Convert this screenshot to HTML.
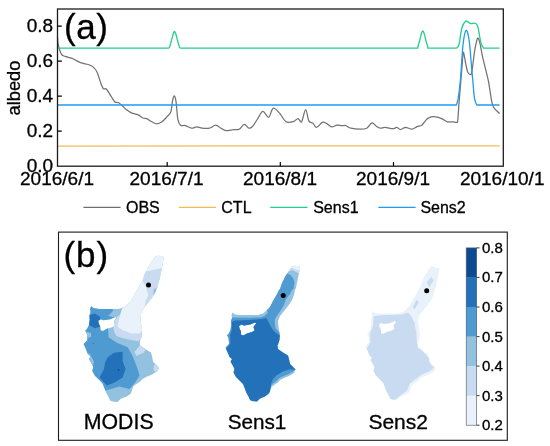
<!DOCTYPE html>
<html><head><meta charset="utf-8"><title>figure</title>
<style>html,body{margin:0;padding:0;background:#fff}svg{display:block}text{stroke:#000;stroke-width:0.3px}</style></head>
<body>
<svg width="550" height="446" viewBox="0 0 550 446" font-family="'Liberation Sans', sans-serif">
<defs><clipPath id="gc" clip-rule="evenodd"><path clip-rule="evenodd" d="M292.0 266.4L294.5 265.7L299.2 266.2L299.8 268.0L299.0 273.0L297.5 280.0L296.0 288.0L295.0 290.0L294.0 295.0L291.5 301.0L288.0 306.0L284.0 311.0L280.0 316.0L278.0 321.0L278.5 327.0L279.0 330.0L279.8 335.0L279.5 340.0L277.5 346.0L278.0 349.0L283.0 352.5L288.0 355.5L289.0 359.0L290.0 364.0L295.5 369.5L294.0 373.0L289.0 376.0L284.0 378.0L280.0 380.0L278.0 382.5L274.0 385.0L271.5 387.0L270.5 390.0L269.0 394.0L265.0 396.5L260.0 398.5L257.0 401.5L252.0 401.0L250.0 400.0L248.5 396.5L246.0 392.0L245.0 389.0L243.0 384.0L240.0 381.0L236.0 377.0L233.5 372.5L234.5 369.0L233.0 366.0L230.5 361.5L232.0 359.0L229.5 357.0L227.5 352.0L225.5 347.5L229.0 344.0L229.0 343.0L228.5 338.0L227.0 335.0L228.5 334.0L230.5 330.0L231.2 325.0L231.0 321.0L232.0 318.0L231.5 315.0L232.5 312.5L235.0 314.5L240.0 315.0L250.0 315.0L258.0 315.0L263.0 313.5L267.0 310.0L270.0 307.0L273.0 301.0L276.5 295.0L279.0 290.0L280.0 289.0L282.0 283.0L285.0 277.0L288.0 272.0L291.0 268.0ZM239.0 326.0L241.5 324.5L244.0 325.5L250.0 324.5L255.0 322.5L256.2 323.5L253.5 327.0L254.5 330.5L252.0 332.0L247.0 333.5L243.5 335.5L241.2 335.0L240.8 331.0L239.5 328.5Z"/></clipPath><clipPath id="gm" clip-rule="evenodd"><path clip-rule="evenodd" transform="translate(-159.22 -30.35) scale(1.0770)" d="M292.0 266.4L294.5 265.7L299.2 266.2L299.8 268.0L299.0 273.0L297.5 280.0L296.0 288.0L295.0 290.0L294.0 295.0L291.5 301.0L288.0 306.0L284.0 311.0L280.0 316.0L278.0 321.0L278.5 327.0L279.0 330.0L279.8 335.0L279.5 340.0L277.5 346.0L278.0 349.0L283.0 352.5L288.0 355.5L289.0 359.0L290.0 364.0L295.5 369.5L294.0 373.0L289.0 376.0L284.0 378.0L280.0 380.0L278.0 382.5L274.0 385.0L271.5 387.0L270.5 390.0L269.0 394.0L265.0 396.5L260.0 398.5L257.0 401.5L252.0 401.0L250.0 400.0L248.5 396.5L246.0 392.0L245.0 389.0L243.0 384.0L240.0 381.0L236.0 377.0L233.5 372.5L234.5 369.0L233.0 366.0L230.5 361.5L232.0 359.0L229.5 357.0L227.5 352.0L225.5 347.5L229.0 344.0L229.0 343.0L228.5 338.0L227.0 335.0L228.5 334.0L230.5 330.0L231.2 325.0L231.0 321.0L232.0 318.0L231.5 315.0L232.5 312.5L235.0 314.5L240.0 315.0L250.0 315.0L258.0 315.0L263.0 313.5L267.0 310.0L270.0 307.0L273.0 301.0L276.5 295.0L279.0 290.0L280.0 289.0L282.0 283.0L285.0 277.0L288.0 272.0L291.0 268.0ZM239.0 326.0L241.5 324.5L244.0 325.5L250.0 324.5L255.0 322.5L256.2 323.5L253.5 327.0L254.5 330.5L252.0 332.0L247.0 333.5L243.5 335.5L241.2 335.0L240.8 331.0L239.5 328.5Z"/></clipPath></defs>
<rect width="550" height="446" fill="#fff"/>
<g fill="none" stroke-linejoin="round" stroke-linecap="butt">
<path d="M57.5 146.1 L499.6 145.8" stroke="#f3bb58" stroke-width="1.3"/>
<path d="M57.5 37.3C57.6 38.6 57.7 42.5 58.4 45.4C59.1 48.2 60.4 52.6 61.5 54.4C62.6 56.2 63.4 55.7 65.3 56.4C67.2 57.1 70.4 57.7 72.9 58.7C75.4 59.8 78.0 61.7 80.5 62.7C83.0 63.7 86.1 63.8 88.2 64.5C90.3 65.2 91.8 65.8 93.3 67.1C94.8 68.4 95.8 69.5 97.1 72.2C98.4 75.0 99.9 80.8 100.9 83.6C102.0 86.3 102.5 87.8 103.4 88.7C104.3 89.6 105.2 87.9 106.5 89.2C107.8 90.5 109.7 94.2 111.1 96.3C112.5 98.4 113.6 100.8 114.9 101.9C116.2 103.0 117.4 102.0 118.7 102.7C120.0 103.4 121.2 104.8 122.5 106.0C123.8 107.2 124.8 108.4 126.3 109.6C127.8 110.8 129.5 112.1 131.4 112.9C133.3 113.8 135.9 113.9 137.8 114.7C139.7 115.5 141.4 117.3 142.9 118.0C144.4 118.7 145.2 118.1 146.7 118.7C148.2 119.3 150.1 121.0 151.8 121.8C153.5 122.6 155.2 123.8 156.9 123.8C158.6 123.8 160.3 123.0 162.0 121.8C163.7 120.6 165.5 118.4 167.0 116.7C168.5 115.0 170.0 114.4 170.9 111.6C171.8 108.8 172.1 102.6 172.7 100.0C173.3 97.4 173.8 95.7 174.3 95.9C174.9 96.1 175.4 97.5 176.0 101.4C176.6 105.3 177.1 115.2 177.8 119.2C178.6 123.2 179.2 124.1 180.5 125.2C181.8 126.3 183.5 125.1 185.3 125.6C187.2 126.1 189.7 128.0 191.6 128.2C193.5 128.4 194.8 126.9 196.7 126.9C198.6 126.9 201.0 128.0 203.1 128.2C205.2 128.4 207.3 128.7 209.4 128.2C211.5 127.7 213.9 125.1 215.8 125.1C217.7 125.1 219.2 127.3 220.9 128.2C222.6 129.1 223.9 130.4 226.0 130.7C228.1 130.9 231.4 129.9 233.6 129.7C235.8 129.4 237.4 130.1 239.2 129.2C241.0 128.3 242.7 124.6 244.3 124.4C245.9 124.2 247.5 127.9 248.9 128.2C250.3 128.5 251.2 127.8 252.7 126.2C254.2 124.6 256.1 121.0 257.8 118.5C259.5 116.0 261.1 111.6 262.9 111.4C264.7 111.2 267.0 117.8 268.7 117.3C270.4 116.8 271.3 109.0 273.1 108.3C274.9 107.6 277.3 110.7 279.4 112.9C281.5 115.1 283.5 120.1 285.8 121.6C288.1 123.0 291.4 122.1 293.4 121.6C295.4 121.1 296.6 118.5 298.0 118.5C299.4 118.5 300.3 123.3 301.6 121.8C302.9 120.3 304.4 109.7 305.6 109.6C306.8 109.5 307.7 118.8 308.9 121.1C310.1 123.3 311.4 122.0 312.7 123.1C314.0 124.1 314.9 127.5 316.5 127.4C318.1 127.3 320.7 122.9 322.4 122.3C324.1 121.7 325.1 122.8 326.7 123.6C328.3 124.4 330.1 126.7 331.8 126.9C333.5 127.2 335.2 125.3 336.9 125.1C338.6 124.9 340.5 125.5 342.0 125.6C343.5 125.7 344.3 125.2 345.8 125.6C347.3 126.0 348.6 127.6 350.9 128.2C353.2 128.8 357.2 129.2 359.8 129.2C362.4 129.2 364.7 129.3 366.7 128.2C368.7 127.1 370.4 123.1 372.0 122.8C373.6 122.5 374.9 125.3 376.3 126.2C377.7 127.1 378.7 128.0 380.2 128.2C381.7 128.4 383.1 127.3 385.2 127.4C387.3 127.5 391.0 128.7 392.9 128.7C394.8 128.7 395.4 127.3 396.7 127.4C398.0 127.5 399.0 129.5 400.5 129.5C402.0 129.5 403.7 127.5 405.6 127.4C407.5 127.4 410.1 129.3 412.0 129.2C413.9 129.1 415.3 127.4 417.0 126.7C418.7 126.0 420.4 126.2 422.1 124.9C423.8 123.6 425.5 120.2 427.3 118.8C429.1 117.4 430.9 117.0 432.7 116.7C434.5 116.5 436.5 116.9 438.2 117.3C439.9 117.7 441.2 118.3 442.7 119.1C444.2 119.8 445.6 121.3 447.3 121.8C449.0 122.2 451.2 121.7 452.7 121.8C454.2 121.9 455.5 122.7 456.4 122.4C457.2 122.1 457.4 123.4 457.8 120.0C458.2 116.6 458.6 108.5 459.1 101.8C459.6 95.1 460.4 86.2 460.9 80.0C461.4 73.8 461.8 69.1 462.2 64.5C462.6 59.9 462.8 52.5 463.3 52.2C463.9 51.9 464.8 59.4 465.5 62.7C466.2 66.0 466.9 69.8 467.6 71.8C468.4 73.8 469.3 74.5 470.0 74.5C470.7 74.5 471.1 75.6 471.8 71.8C472.6 68.0 473.7 56.9 474.5 51.8C475.3 46.6 476.1 43.2 476.7 40.9C477.3 38.6 477.6 37.8 478.2 38.2C478.8 38.7 479.2 40.4 480.0 43.6C480.8 46.8 481.3 51.2 482.7 57.3C484.1 63.4 487.0 74.4 488.2 80.0C489.4 85.6 489.4 87.3 490.0 90.9C490.6 94.5 491.2 99.1 491.8 101.8C492.4 104.5 492.8 105.8 493.6 107.3C494.4 108.8 495.4 109.5 496.4 110.5C497.4 111.5 499.1 113.1 499.6 113.6" stroke="#727272" stroke-width="1.25"/>
<path d="M57.5 48.1L168.4 48.1C168.9 47.9 169.0 48.2 169.5 47.0C170.0 45.8 170.7 43.1 171.3 41.0C171.9 38.9 172.5 36.1 173.0 34.5C173.5 32.9 174.0 31.5 174.5 31.5C175.0 31.5 175.5 32.9 176.0 34.5C176.5 36.1 177.1 38.9 177.7 41.0C178.3 43.1 179.0 45.8 179.5 47.0C180.0 48.2 180.1 47.9 180.6 48.1L417.8 48.1C418.1 47.9 417.5 48.2 417.8 47.0C418.1 45.8 419.0 43.2 419.6 41.0C420.2 38.8 420.8 35.7 421.3 34.0C421.8 32.3 422.3 31.0 422.8 31.0C423.3 31.0 423.8 32.3 424.3 34.0C424.8 35.7 425.4 38.8 426.0 41.0C426.6 43.2 427.5 45.8 427.8 47.0C428.1 48.2 427.5 47.9 427.8 48.1L456.4 48.1C457.2 47.5 458.1 47.8 459.0 44.5C459.9 41.2 460.7 32.1 461.8 28.2C462.9 24.3 464.4 22.3 465.5 21.3C466.6 20.3 467.6 21.9 468.5 22.3C469.4 22.7 469.9 23.5 470.9 23.6C471.9 23.7 473.5 23.0 474.5 23.1C475.5 23.2 476.1 23.6 476.7 24.5C477.3 25.4 477.5 25.2 478.2 28.2C478.9 31.2 480.0 39.4 480.9 42.7C481.8 46.0 482.8 47.2 483.6 48.1L499.6 48.1" stroke="#22cf8f" stroke-width="1.3"/>
<path d="M57.5 105.0L456.4 105.0C457.0 103.9 457.5 102.4 458.2 98.2C458.9 94.0 459.6 88.9 460.4 80.0C461.2 71.1 462.1 53.2 463.0 45.0C463.9 36.8 465.0 31.3 466.0 30.5C467.0 29.7 468.1 33.4 469.1 40.0C470.1 46.6 471.1 62.5 471.8 70.0C472.5 77.5 472.8 80.3 473.2 85.0C473.6 89.7 473.9 94.9 474.5 98.2C475.1 101.5 476.0 103.9 476.7 105.0L499.6 105.0" stroke="#1e9af3" stroke-width="1.3"/>
</g>
<rect x="57.5" y="9.0" width="445.8" height="157.2" fill="none" stroke="#1c1c1c" stroke-width="1.3"/>
<path d="M57.5 131.2h4.3M57.5 96.2h4.3M57.5 61.1h4.3M57.5 26.1h4.3M167.2 166.2v-4.3M280.3 166.2v-4.3M393.5 166.2v-4.3" stroke="#000" stroke-width="1.2" fill="none"/>
<g font-size="19" text-anchor="end" fill="#000">
<text x="53.2" y="171.7">0.0</text>
<text x="53.2" y="137.2">0.2</text>
<text x="53.2" y="102.2">0.4</text>
<text x="53.2" y="67.1">0.6</text>
<text x="53.2" y="32.1">0.8</text>
</g>
<g font-size="19" text-anchor="middle" fill="#000">
<text x="57.0" y="185.3">2016/6/1</text>
<text x="166.5" y="185.3">2016/7/1</text>
<text x="280.0" y="185.3">2016/8/1</text>
<text x="393.0" y="185.3">2016/9/1</text>
<text x="502.2" y="185.3">2016/10/1</text>
</g>
<text transform="translate(20.1 88) rotate(-90)" font-size="18.3" text-anchor="middle">albedo</text>
<text x="64.1" y="38.6" font-size="35" letter-spacing="0.5">(a)</text>
<path d="M83.4 207.3h37.2" stroke="#6f6f6f" stroke-width="1.3"/>
<text x="126.0" y="213" font-size="16">OBS</text>
<path d="M178.8 207.3h37.2" stroke="#f3bb58" stroke-width="1.3"/>
<text x="221.3" y="213" font-size="16">CTL</text>
<path d="M270.3 207.3h37.2" stroke="#22cf8f" stroke-width="1.3"/>
<text x="313.2" y="213" font-size="16">Sens1</text>
<path d="M378.4 207.3h37.2" stroke="#1e9af3" stroke-width="1.3"/>
<text x="420.4" y="213" font-size="16">Sens2</text>
<rect x="58.5" y="232.1" width="448.8" height="208.2" fill="none" stroke="#1c1c1c" stroke-width="1.1"/>
<text x="63.4" y="267.2" font-size="35" letter-spacing="1.0">(b)</text>
<g clip-path="url(#gm)"><rect x="80" y="250" width="90" height="155" fill="#93c2e0"/>
<path d="M80.0 300.0L100.0 305.0L112.0 306.0L113.0 311.0L108.0 316.0L118.0 318.0L114.0 322.0L108.0 328.0L108.6 337.3L116.8 342.7L127.7 347.3L132.3 355.5L136.8 366.4L139.5 375.5L135.0 382.7L129.5 389.1L119.5 386.4L107.7 390.0L100.0 392.0L80.0 380.0Z" fill="#4f9ad0"/>
<path d="M84.0 352.0L90.0 354.0L94.0 362.0L92.0 370.0L84.0 365.0Z" fill="#93c2e0"/>
<path d="M84.0 331.0L91.0 333.0L91.0 337.0L87.5 338.0L84.0 336.0Z" fill="#93c2e0"/>
<path d="M154.0 365.0L160.0 362.0L162.0 368.0L156.0 372.5L153.5 370.0Z" fill="#c8dbf0"/>
<path d="M114.1 320.0L118.0 316.0L124.0 312.0L130.0 306.0L150.0 300.0L150.0 335.0L142.5 337.0L138.6 341.2L134.0 340.6L127.7 339.3L122.0 338.0L116.5 336.0L114.3 332.0L113.3 327.0Z" fill="#c8dbf0"/>
<path d="M134.5 352.0L140.0 345.0L145.5 350.0L144.0 352.5L136.5 356.0Z" fill="#c8dbf0"/>
<path d="M118.6 320.9L117.7 326.4L122.3 330.0L131.4 333.6L139.5 333.6L141.9 330.9L150.0 320.0L170.0 290.0L170.0 250.0L140.0 250.0L125.0 300.0L121.0 312.0Z" fill="#e9f2fa"/>
<path d="M144.5 271.8L152.7 270.0L166.0 267.0L166.0 290.0L152.7 297.3L147.3 304.5L144.0 309.0L146.0 300.0L148.2 295.5L146.4 288.2L142.7 280.9Z" fill="#c8dbf0"/>
<path d="M153.5 289.5L156.5 287.5L156.0 292.0L153.5 295.0Z" fill="#93c2e0"/>
<path d="M88.0 315.5L95.0 313.6L100.5 317.3L99.5 321.8L100.5 326.4L95.0 328.2L88.0 324.5Z" fill="#2371b8"/>
<path d="M107.7 357.3L114.1 352.7L122.6 351.8L122.6 360.9L125.5 369.1L122.6 377.6L114.1 382.7L106.8 385.5L99.5 377.6L104.1 369.1L105.0 362.7Z" fill="#2371b8"/>
<circle cx="118.6" cy="370" r="0.9" fill="#0b4b93"/>
<circle cx="93.2" cy="343.6" r="0.7" fill="#2371b8"/></g>
<g clip-path="url(#gc)"><rect x="220" y="260" width="85" height="145" fill="#93c2e0"/>
<path d="M286.0 262.0L302.0 262.0L302.0 274.0L297.0 272.5L292.0 270.0L288.0 272.0Z" fill="#c8dbf0"/>
<path d="M288.0 262.0L302.0 262.0L302.0 271.0L296.0 269.5L291.0 267.5Z" fill="#e9f2fa"/>
<path d="M280.0 272.0L287.0 273.5L290.5 275.0L293.5 278.5L294.5 283.0L293.5 289.0L292.0 290.0L290.0 294.0L286.0 299.0L284.0 305.0L281.0 310.0L277.5 315.0L275.0 319.0L274.8 323.0L275.5 328.0L278.5 331.5L282.0 334.0L282.0 337.0L270.0 337.0L270.0 350.0L220.0 352.0L220.0 317.5L233.0 317.5L250.0 317.7L260.0 317.5L264.5 316.0L268.0 312.5L262.0 300.0L270.0 290.0Z" fill="#4f9ad0"/>
<path d="M297.0 368.5L292.6 371.8L288.0 374.3L283.0 376.3L279.0 378.3L276.6 381.0L273.0 383.6L270.8 386.0L270.0 389.5L265.0 389.5L265.0 365.0L296.0 365.0Z" fill="#4f9ad0"/>
<path d="M232.5 321.5L235.0 320.5L250.0 320.0L262.0 319.0L266.0 318.0L267.5 320.0L270.0 325.0L273.0 330.0L276.0 333.0L279.8 335.5L285.0 335.0L300.0 350.0L300.0 369.5L289.0 369.5L283.0 371.5L277.0 375.0L273.0 379.0L271.2 383.0L270.8 387.0L270.0 392.0L262.0 400.0L250.0 406.0L240.0 400.0L220.0 370.0L220.0 349.5L225.5 349.0L228.0 347.0L230.5 343.0L230.0 335.0L231.8 330.0L232.0 322.0Z" fill="#2371b8"/></g>
<g transform="translate(140 -1.5)"><g clip-path="url(#gc)"><rect x="220" y="260" width="85" height="145" fill="#e9f2fa"/>
<path d="M233.6 317.7L241.8 316.8L261.8 315.9L268.2 314.1L271.8 318.6L274.5 324.1L276.4 335.0L277.0 345.0L283.0 353.0L289.0 360.0L290.0 365.0L294.0 369.0L290.0 372.5L282.0 376.0L275.0 381.0L269.5 385.5L267.0 392.0L250.0 405.0L220.0 380.0L220.0 352.0L227.5 349.0L230.5 344.0L229.8 336.0L233.0 327.0Z" fill="#c8dbf0"/>
<path d="M286.8 283.8L291.4 278.3L293.5 282.0L289.2 288.9Z" fill="#c8dbf0"/>
<path d="M285.0 260.0L305.0 260.0L305.0 271.7L299.5 270.1L291.4 267.8L285.0 266.0Z" fill="#fff"/>
<path d="M272.8 308.3L276.8 301.0L278.6 304.1L274.6 311.0Z" fill="#c8dbf0"/></g></g>
<circle cx="148.5" cy="284.9" r="2.5" fill="#000"/>
<circle cx="283.2" cy="295.6" r="2.5" fill="#000"/>
<circle cx="426.7" cy="290.8" r="2.5" fill="#000"/>
<g font-size="21" text-anchor="middle"><text x="118.7" y="428.8" font-size="21.3">MODIS</text><text x="257.0" y="428.8" font-size="20.7">Sens1</text><text x="398.2" y="428.8">Sens2</text></g>
<rect x="466.2" y="247.90" width="10.5" height="29.85" fill="#0b4b93"/>
<rect x="466.2" y="277.45" width="10.5" height="29.85" fill="#2371b8"/>
<rect x="466.2" y="307.00" width="10.5" height="29.85" fill="#4f9ad0"/>
<rect x="466.2" y="336.55" width="10.5" height="29.85" fill="#93c2e0"/>
<rect x="466.2" y="366.10" width="10.5" height="29.85" fill="#c8dbf0"/>
<rect x="466.2" y="395.65" width="10.5" height="29.55" fill="#e9f2fa"/>
<rect x="466.2" y="247.9" width="10.5" height="177.3" fill="none" stroke="#555" stroke-width="0.6"/>
<path d="M476.7 247.9h2.8M476.7 277.4h2.8M476.7 307.0h2.8M476.7 336.6h2.8M476.7 366.1h2.8M476.7 395.6h2.8M476.7 425.2h2.8" stroke="#222" stroke-width="0.9" fill="none"/>
<g font-size="13.9">
<text transform="translate(482.0 252.9) scale(1.08 1)">0.8</text>
<text transform="translate(482.0 282.4) scale(1.08 1)">0.7</text>
<text transform="translate(482.0 312.0) scale(1.08 1)">0.6</text>
<text transform="translate(482.0 341.6) scale(1.08 1)">0.5</text>
<text transform="translate(482.0 371.1) scale(1.08 1)">0.4</text>
<text transform="translate(482.0 400.6) scale(1.08 1)">0.3</text>
<text transform="translate(482.0 430.2) scale(1.08 1)">0.2</text>
</g>
</svg>
</body></html>
